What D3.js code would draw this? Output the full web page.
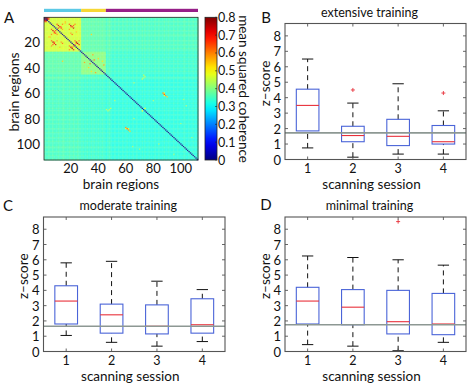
<!DOCTYPE html>
<html><head><meta charset="utf-8">
<script src="https://cdn.jsdelivr.net/npm/d3@7"></script>
<style>body{margin:0;background:#fff}svg{display:block;font-family:Lato,"Open Sans",sans-serif}</style>
</head><body>
<svg id="c" width="474" height="387"></svg>
<script>
// ---------------- DATA ----------------
const nRegions = 112;
const regionGroups = [
  {start: 1, end: 27, color: "#5cc9e6"},
  {start: 28, end: 45, color: "#f6d735"},
  {start: 46, end: 112, color: "#961f88"}
];
const baseCoherence = 0.32;
// per-region stripe level (texture of rows/columns)
const stripeLevel = [
  3,2,2,3,2,2,3,2,2,2, 3,2,2,3,3,2,2,2,3,2, 2,3,2,2,3,2,2,
  1,2,1,1,2,1,1,2,1,2, 1,1,2,1,1,2,1,1,
  0,1,2,1,0,0,1,0,0,1, 0,0,1,0,0,1,0,0,0,1, 0,0,1,0,0,0,1,0,1,0,
  0,1,0,0,0,1,0,0,1,0, 0,0,1,0,0,1,0,0,0,1, 0,0,1,0,0,0,1,1,0,0,
  1,0,0,1,0,0,1
];
// block patches [rowStart,rowEnd,colStart,colEnd,value] (mirrored)
const blockPatches = [
  [1, 27, 1, 27, 0.46],
  [28, 45, 28, 45, 0.415],
  [1, 27, 28, 45, 0.37]
];
// individual strong cells [row,col,value] (mirrored)
const hotCells = [
  [1,2,0.8],[1,3,0.74],[2,3,0.78],[2,4,0.66],[1,4,0.62],
  [6,10,0.64],[7,11,0.74],[8,12,0.7],[9,13,0.66],[6,14,0.6],[9,11,0.64],[10,14,0.58],[8,13,0.58],
  [6,19,0.64],[7,20,0.76],[8,21,0.7],[9,22,0.74],[6,23,0.6],[7,22,0.64],[10,19,0.58],[8,20,0.6],
  [19,23,0.62],[20,24,0.74],[21,25,0.78],[22,26,0.7],[19,26,0.6],[22,23,0.6],[21,24,0.6],
  [13,20,0.58],[14,21,0.62],[12,24,0.55],[4,16,0.55],[16,5,0.55],
  [30,36,0.58],[33,40,0.54],[35,43,0.52],[38,44,0.58],[14,35,0.54],[34,37,0.62],
  [60,87,0.6],[61,88,0.65],[62,89,0.6],[63,90,0.54],[60,88,0.5],[62,88,0.5],
  [72,74,0.5],[73,46,0.45],[74,47,0.44],[49,72,0.45],[48,73,0.44],[102,65,0.42],[104,70,0.42],
  [52,66,0.43],[84,100,0.42],[95,108,0.41],[66,80,0.42]
];
const colorbarTicks = [0,0.1,0.2,0.3,0.4,0.5,0.6,0.7,0.8];
const regionTicks = [20,40,60,80,100];

const sessions = [1,2,3,4];
const zTicks = [0,1,2,3,4,5,6,7,8];
// box stats per session: [lowWhisker, q1, median, q3, highWhisker]
const extensiveStats = [[0.75,1.85,3.5,4.55,6.5],[0.15,1.15,1.55,2.15,3.65],[0.35,0.9,1.5,2.6,4.9],[0.35,1.0,1.15,2.2,3.15]];
const extensiveOutliers = [[],[4.5],[],[4.3]];
const moderateStats = [[1.05,1.8,3.3,4.3,5.8],[0.6,1.2,2.4,3.1,5.9],[0.35,1.15,1.65,3.05,4.6],[0.65,1.2,1.75,3.45,4.05]];
const moderateOutliers = [[],[],[],[]];
const minimalStats = [[0.45,1.8,3.3,4.2,6.25],[0.35,1.75,2.9,4.05,6.15],[0.05,1.15,1.95,4.0,6.0],[0.6,1.1,1.8,3.8,5.65]];
const minimalOutliers = [[],[],[8.5],[]];
const thresholds = {extensive: 1.72, moderate: 1.65, minimal: 1.75};

// ---------------- DRAW ----------------
const svg = d3.select("#c");
const cl = v => Math.max(0, Math.min(1, v));
const jet = t => d3.rgb(cl(1.5-Math.abs(4*t-3))*255, cl(1.5-Math.abs(4*t-2))*255, cl(1.5-Math.abs(4*t-1))*255).toString();
const color = d3.scaleSequential(jet).domain([0,0.8]).clamp(true);

// ----- panel A -----
const hm = {x0: 44, x1: 198, y0: 17.3, y1: 160};
const regions = d3.range(1, nRegions+1);
const xB = d3.scaleBand().domain(regions).range([hm.x0, hm.x1]);
const yB = d3.scaleBand().domain(regions).range([hm.y0, hm.y1]);
const M = regions.map(i => regions.map(j => baseCoherence + 0.012*(stripeLevel[i-1]+stripeLevel[j-1])));
blockPatches.forEach(([r0,r1,c0,c1,v]) => {
  for (let r=r0;r<=r1;r++) for (let c=c0;c<=c1;c++) {
    M[r-1][c-1] = Math.max(M[r-1][c-1], v + 0.008*(stripeLevel[r-1]+stripeLevel[c-1]-4));
    M[c-1][r-1] = M[r-1][c-1];
  }
});
hotCells.forEach(([r,c,v]) => { M[r-1][c-1] = v; M[c-1][r-1] = v; });
regions.forEach(i => { M[i-1][i-1] = 0; });
const cells = [];
regions.forEach(i => regions.forEach(j => cells.push({i, j, v: M[i-1][j-1]})));
svg.append("g").attr("opacity", 0.86).selectAll("rect").data(cells).join("rect")
  .attr("x", d => xB(d.j)).attr("y", d => yB(d.i))
  .attr("width", xB.bandwidth()+0.4).attr("height", yB.bandwidth()+0.4)
  .attr("fill", d => color(d.v));
svg.append("rect").attr("x", hm.x0).attr("y", hm.y0).attr("width", hm.x1-hm.x0).attr("height", hm.y1-hm.y0)
  .attr("fill","none").attr("stroke","#222").attr("stroke-width",0.8);
svg.append("g").selectAll("rect").data(regionGroups).join("rect")
  .attr("x", d => xB(d.start)).attr("width", d => xB(d.end)+xB.bandwidth()-xB(d.start))
  .attr("y", 8.8).attr("height", 3.2).attr("fill", d => d.color);
const xT = d3.scaleLinear().domain([0.5, nRegions+0.5]).range([hm.x0, hm.x1]);
const yT = d3.scaleLinear().domain([0.5, nRegions+0.5]).range([hm.y0, hm.y1]);
svg.append("g").selectAll("text").data(regionTicks).join("text")
  .attr("x", d => xT(d)).attr("y", 167.5).attr("text-anchor","middle").attr("dominant-baseline","central")
  .attr("font-size", 13).attr("fill","#111").text(d => d);
svg.append("g").selectAll("text").data(regionTicks).join("text")
  .attr("x", 40).attr("y", d => yT(d)).attr("text-anchor","end").attr("dominant-baseline","central")
  .attr("font-size", 13.5).attr("fill","#111").text(d => d);
svg.append("text").attr("x", 121).attr("y", 184.2).attr("text-anchor","middle").attr("dominant-baseline","central")
  .attr("font-size", 13.5).attr("fill","#111").text("brain regions");
svg.append("text").attr("transform","translate(13,92) rotate(-90)").attr("text-anchor","middle").attr("dominant-baseline","central")
  .attr("font-size", 14).attr("fill","#111").text("brain regions");
svg.append("text").attr("x", 9).attr("y", 16.5).attr("text-anchor","middle").attr("dominant-baseline","central")
  .attr("font-size", 15).attr("fill","#111").text("A");

// colorbar
const cb = {x0: 205, x1: 217, y0: 17.3, y1: 160};
const grad = svg.append("defs").append("linearGradient").attr("id","jetg")
  .attr("x1","0").attr("y1","1").attr("x2","0").attr("y2","0");
d3.range(0, 1.0001, 0.05).forEach(t => grad.append("stop").attr("offset", t).attr("stop-color", jet(t)));
svg.append("rect").attr("x", cb.x0).attr("y", cb.y0).attr("width", cb.x1-cb.x0).attr("height", cb.y1-cb.y0)
  .attr("fill","url(#jetg)").attr("stroke","#222").attr("stroke-width",0.8);
const cbY = d3.scaleLinear().domain([0,0.8]).range([cb.y1, cb.y0]);
svg.append("g").selectAll("text").data(colorbarTicks).join("text")
  .attr("x", 218).attr("y", d => cbY(d)).attr("dominant-baseline","central")
  .attr("font-size", 12.5).attr("fill","#111").text(d => d === 0 ? "0" : d3.format(".1f")(d));
svg.append("g").selectAll("line").data(colorbarTicks).join("line")
  .attr("x1", cb.x1-2).attr("x2", cb.x1).attr("y1", d => cbY(d)).attr("y2", d => cbY(d))
  .attr("stroke","#222").attr("stroke-width",0.6);
svg.append("text").attr("transform","translate(244,89) rotate(90)").attr("text-anchor","middle").attr("dominant-baseline","central")
  .attr("font-size", 13.5).attr("fill","#111").text("mean squared coherence");

// ----- box panels -----
function boxPanel(cfg) {
  const g = svg.append("g");
  const x = d3.scaleLinear().domain([0.5, 4.5]).range([cfg.x0, cfg.x1]);
  const y = d3.scaleLinear().domain([0, 8.8]).range([cfg.y1, cfg.y0]);
  const bw = x(1.25) - x(1), cw = x(1.125) - x(1);
  const data = sessions.map((s, k) => ({s, st: cfg.stats[k], out: cfg.outliers[k]}));
  g.selectAll(".wl").data(data).join("line").attr("x1", d => x(d.s)).attr("x2", d => x(d.s))
    .attr("y1", d => y(d.st[0])).attr("y2", d => y(d.st[1])).attr("stroke","#111").attr("stroke-width",1).attr("stroke-dasharray","5,4");
  g.selectAll(".wh").data(data).join("line").attr("x1", d => x(d.s)).attr("x2", d => x(d.s))
    .attr("y1", d => y(d.st[3])).attr("y2", d => y(d.st[4])).attr("stroke","#111").attr("stroke-width",1).attr("stroke-dasharray","5,4");
  [0,4].forEach(idx => g.selectAll(".cap"+idx).data(data).join("line")
    .attr("x1", d => x(d.s)-cw).attr("x2", d => x(d.s)+cw)
    .attr("y1", d => y(d.st[idx])).attr("y2", d => y(d.st[idx])).attr("stroke","#111").attr("stroke-width",1));
  g.selectAll(".bx").data(data).join("rect").attr("x", d => x(d.s)-bw).attr("width", 2*bw)
    .attr("y", d => y(d.st[3])).attr("height", d => y(d.st[1]) - y(d.st[3]))
    .attr("fill","none").attr("stroke","#4a64d8").attr("stroke-width",1.1);
  g.selectAll(".md").data(data).join("line").attr("x1", d => x(d.s)-bw).attr("x2", d => x(d.s)+bw)
    .attr("y1", d => y(d.st[2])).attr("y2", d => y(d.st[2])).attr("stroke","#e8303a").attr("stroke-width",1.1);
  const outs = data.flatMap(d => d.out.map(v => ({s: d.s, v})));
  const o = g.selectAll(".ol").data(outs).join("g").attr("transform", d => `translate(${x(d.s)},${y(d.v)})`);
  o.append("line").attr("x1",-2).attr("x2",2).attr("stroke","#e8303a").attr("stroke-width",0.9);
  o.append("line").attr("y1",-2).attr("y2",2).attr("stroke","#e8303a").attr("stroke-width",0.9);
  g.append("line").attr("x1", cfg.x0).attr("x2", cfg.x1).attr("y1", y(cfg.thr)).attr("y2", y(cfg.thr))
    .attr("stroke","#8d9893").attr("stroke-width",1.6);
  g.append("rect").attr("x", cfg.x0).attr("y", cfg.y0).attr("width", cfg.x1-cfg.x0).attr("height", cfg.y1-cfg.y0)
    .attr("fill","none").attr("stroke","#555").attr("stroke-width",1.1);
  const tl = 3;
  g.selectAll(".ytl").data(zTicks).join("line").attr("x1", cfg.x0).attr("x2", cfg.x0+tl)
    .attr("y1", d => y(d)).attr("y2", d => y(d)).attr("stroke","#555").attr("stroke-width",0.9);
  g.selectAll(".ytr").data(zTicks).join("line").attr("x1", cfg.x1-tl).attr("x2", cfg.x1)
    .attr("y1", d => y(d)).attr("y2", d => y(d)).attr("stroke","#555").attr("stroke-width",0.9);
  g.selectAll(".xtb").data(sessions).join("line").attr("x1", d => x(d)).attr("x2", d => x(d))
    .attr("y1", cfg.y1).attr("y2", cfg.y1-tl).attr("stroke","#555").attr("stroke-width",0.9);
  g.selectAll(".xtt").data(sessions).join("line").attr("x1", d => x(d)).attr("x2", d => x(d))
    .attr("y1", cfg.y0).attr("y2", cfg.y0+tl).attr("stroke","#555").attr("stroke-width",0.9);
  g.selectAll(".ylab").data(zTicks).join("text").attr("x", cfg.x0-4).attr("y", d => y(d))
    .attr("text-anchor","end").attr("dominant-baseline","central").attr("font-size",13).attr("fill","#111").text(d => d);
  g.selectAll(".xlab").data(sessions).join("text").attr("x", d => x(d)).attr("y", cfg.y1+9)
    .attr("text-anchor","middle").attr("dominant-baseline","central").attr("font-size",12.5).attr("fill","#111").text(d => d);
  g.append("text").attr("x", (cfg.x0+cfg.x1)/2 - 4).attr("y", cfg.y1+24.5).attr("text-anchor","middle").attr("dominant-baseline","central")
    .attr("font-size",13.5).attr("fill","#111").text("scanning session");
  g.append("text").attr("transform", `translate(${cfg.ylx},${(cfg.y0+cfg.y1)/2 - 8}) rotate(-90)`).attr("text-anchor","middle")
    .attr("dominant-baseline","central").attr("font-size",13.5).attr("fill","#111").text("z–score");
  g.append("text").attr("x", (cfg.x0+cfg.x1)/2 - 6).attr("y", cfg.y0-11.5).attr("text-anchor","middle").attr("dominant-baseline","central")
    .attr("font-size",12.5).attr("fill","#111").text(cfg.title);
  g.append("text").attr("x", cfg.lx).attr("y", cfg.ly).attr("text-anchor","middle").attr("dominant-baseline","central")
    .attr("font-size",15).attr("fill","#111").text(cfg.letter);
}
boxPanel({x0:285, x1:466, y0:23.5, y1:159.5, stats: extensiveStats, outliers: extensiveOutliers, thr: thresholds.extensive,
  title:"extensive training", letter:"B", lx:266, ly:16.5, ylx:265});
boxPanel({x0:43.5, x1:225, y0:217, y1:351.5, stats: moderateStats, outliers: moderateOutliers, thr: thresholds.moderate,
  title:"moderate training", letter:"C", lx:8, ly:205, ylx:23});
boxPanel({x0:285, x1:466, y0:217, y1:351.5, stats: minimalStats, outliers: minimalOutliers, thr: thresholds.minimal,
  title:"minimal training", letter:"D", lx:266, ly:203.5, ylx:265});
</script>
</body></html>
